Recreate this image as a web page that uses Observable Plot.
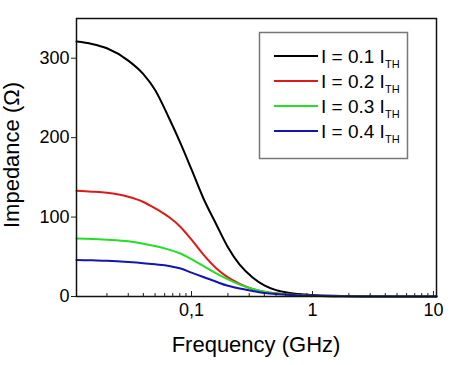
<!DOCTYPE html>
<html><head><meta charset="utf-8">
<script src="https://cdn.jsdelivr.net/npm/d3@7"></script>
<script src="https://cdn.jsdelivr.net/npm/@observablehq/plot@0.6"></script>
<style>body{margin:0;background:#fff} svg{display:block}</style>
</head><body><div id="chart"></div>
<script>
const freq   = [0.0112, 0.015, 0.02, 0.03, 0.04, 0.05, 0.065, 0.08, 0.1, 0.125, 0.16, 0.2, 0.25, 0.32, 0.4, 0.5, 0.65, 0.8, 1, 1.5, 2, 3, 5, 10.6];
const zBlack = [321, 318, 312.5, 297, 280, 260, 225, 195, 160, 124, 91, 62, 40, 24, 14, 8, 4.5, 2.8, 1.8, 0.8, 0.4, 0.2, 0.1, 0];
const zRed   = [133, 132, 130.5, 125.5, 119, 111, 100, 88.5, 71.5, 53, 35.5, 24, 16, 9.5, 6, 4, 2.5, 1.6, 1, 0.4, 0.2, 0.1, 0.05, 0];
const zGreen = [73, 72.5, 71.5, 69.5, 66.5, 63.5, 59, 54.5, 47, 38.5, 29, 21.5, 15, 9.5, 6, 3.8, 2.3, 1.5, 1, 0.4, 0.2, 0.1, 0.05, 0];
const zBlue  = [46, 45.5, 45, 43.5, 42, 40.5, 38.5, 35.5, 30, 24.5, 18.5, 13.5, 10, 7, 4.5, 3, 2, 1.4, 0.9, 0.4, 0.2, 0.1, 0.05, 0];
const seriesColors = ["#000000", "#e01818", "#22e022", "#1414b4"];
const legendLabels = ["I = 0.1 I", "I = 0.2 I", "I = 0.3 I", "I = 0.4 I"];
const legendSub = "TH";
const xTitle = "Frequency (GHz)";
const yTitle = "Impedance (Ω)";
const xMajorTicks = [0.1, 1, 10];
const xMinorTicks = [0.02,0.03,0.04,0.05,0.06,0.07,0.08,0.09,0.2,0.3,0.4,0.5,0.6,0.7,0.8,0.9,2,3,4,5,6,7,8,9];
const yTicks = [0, 100, 200, 300];

const allSeries = [zBlack, zRed, zGreen, zBlue];
const font = "'Liberation Sans', Arial, sans-serif";
const W = 474, H = 365, mt = 18, mr = 38, mb = 69, ml = 76;
const fh = H - mt - mb;

const lineMarks = allSeries.map((vals, i) =>
  Plot.line(freq.map((f, j) => ({f, z: vals[j]})), {x: "f", y: "z", stroke: seriesColors[i], strokeWidth: 2, curve: "monotone-x"})
);

const chart = Plot.plot({
  width: W, height: H,
  marginTop: mt, marginRight: mr, marginBottom: mb, marginLeft: ml,
  style: {fontFamily: font, color: "#000", background: "#fff"},
  x: {type: "log", domain: [0.0112, 10.6]},
  y: {domain: [0, 350]},
  marks: [
    ...lineMarks,
    Plot.ruleX(xMinorTicks, {insetTop: fh - 3, stroke: "#222", strokeWidth: 1}),
    Plot.ruleX(xMajorTicks, {insetTop: fh - 5, stroke: "#222", strokeWidth: 1}),
    Plot.axisX({ticks: xMajorTicks, tickSize: 0, tickPadding: 7, fontSize: 18, label: null,
      tickFormat: d => d === 0.1 ? "0,1" : String(d)}),
    Plot.axisY({ticks: yTicks, tickSize: 5, tickPadding: 2, fontSize: 18, label: null, stroke: "#222"}),
    Plot.frame({stroke: "#111", strokeWidth: 1.5})
  ]
});

const svg = d3.select(chart);
const g = svg.append("g").attr("font-family", font).attr("text-anchor", "start").attr("fill", "#000");
// axis titles
g.append("text").attr("x", ml + (W - ml - mr) / 2).attr("y", 352).attr("text-anchor", "middle")
  .attr("font-size", 22).text(xTitle);
g.append("text").attr("transform", `translate(19,${mt + fh / 2 - 2}) rotate(-90)`).attr("text-anchor", "middle")
  .attr("font-size", 22).text(yTitle);
// legend
g.append("rect").attr("x", 259.5).attr("y", 32.5).attr("width", 148).attr("height", 126)
  .attr("fill", "#fff").attr("stroke", "#777").attr("stroke-width", 1.5);
legendLabels.forEach((lab, i) => {
  const y = 56 + i * 25;
  g.append("line").attr("x1", 274).attr("x2", 318).attr("y1", y).attr("y2", y)
    .attr("stroke", seriesColors[i]).attr("stroke-width", 2);
  const t = g.append("text").attr("x", 321).attr("y", y + 7).attr("font-size", 19);
  t.append("tspan").text(lab);
  t.append("tspan").attr("font-size", 11).attr("dy", 5).text(legendSub);
});

document.getElementById("chart").appendChild(chart);
</script>
</body></html>
